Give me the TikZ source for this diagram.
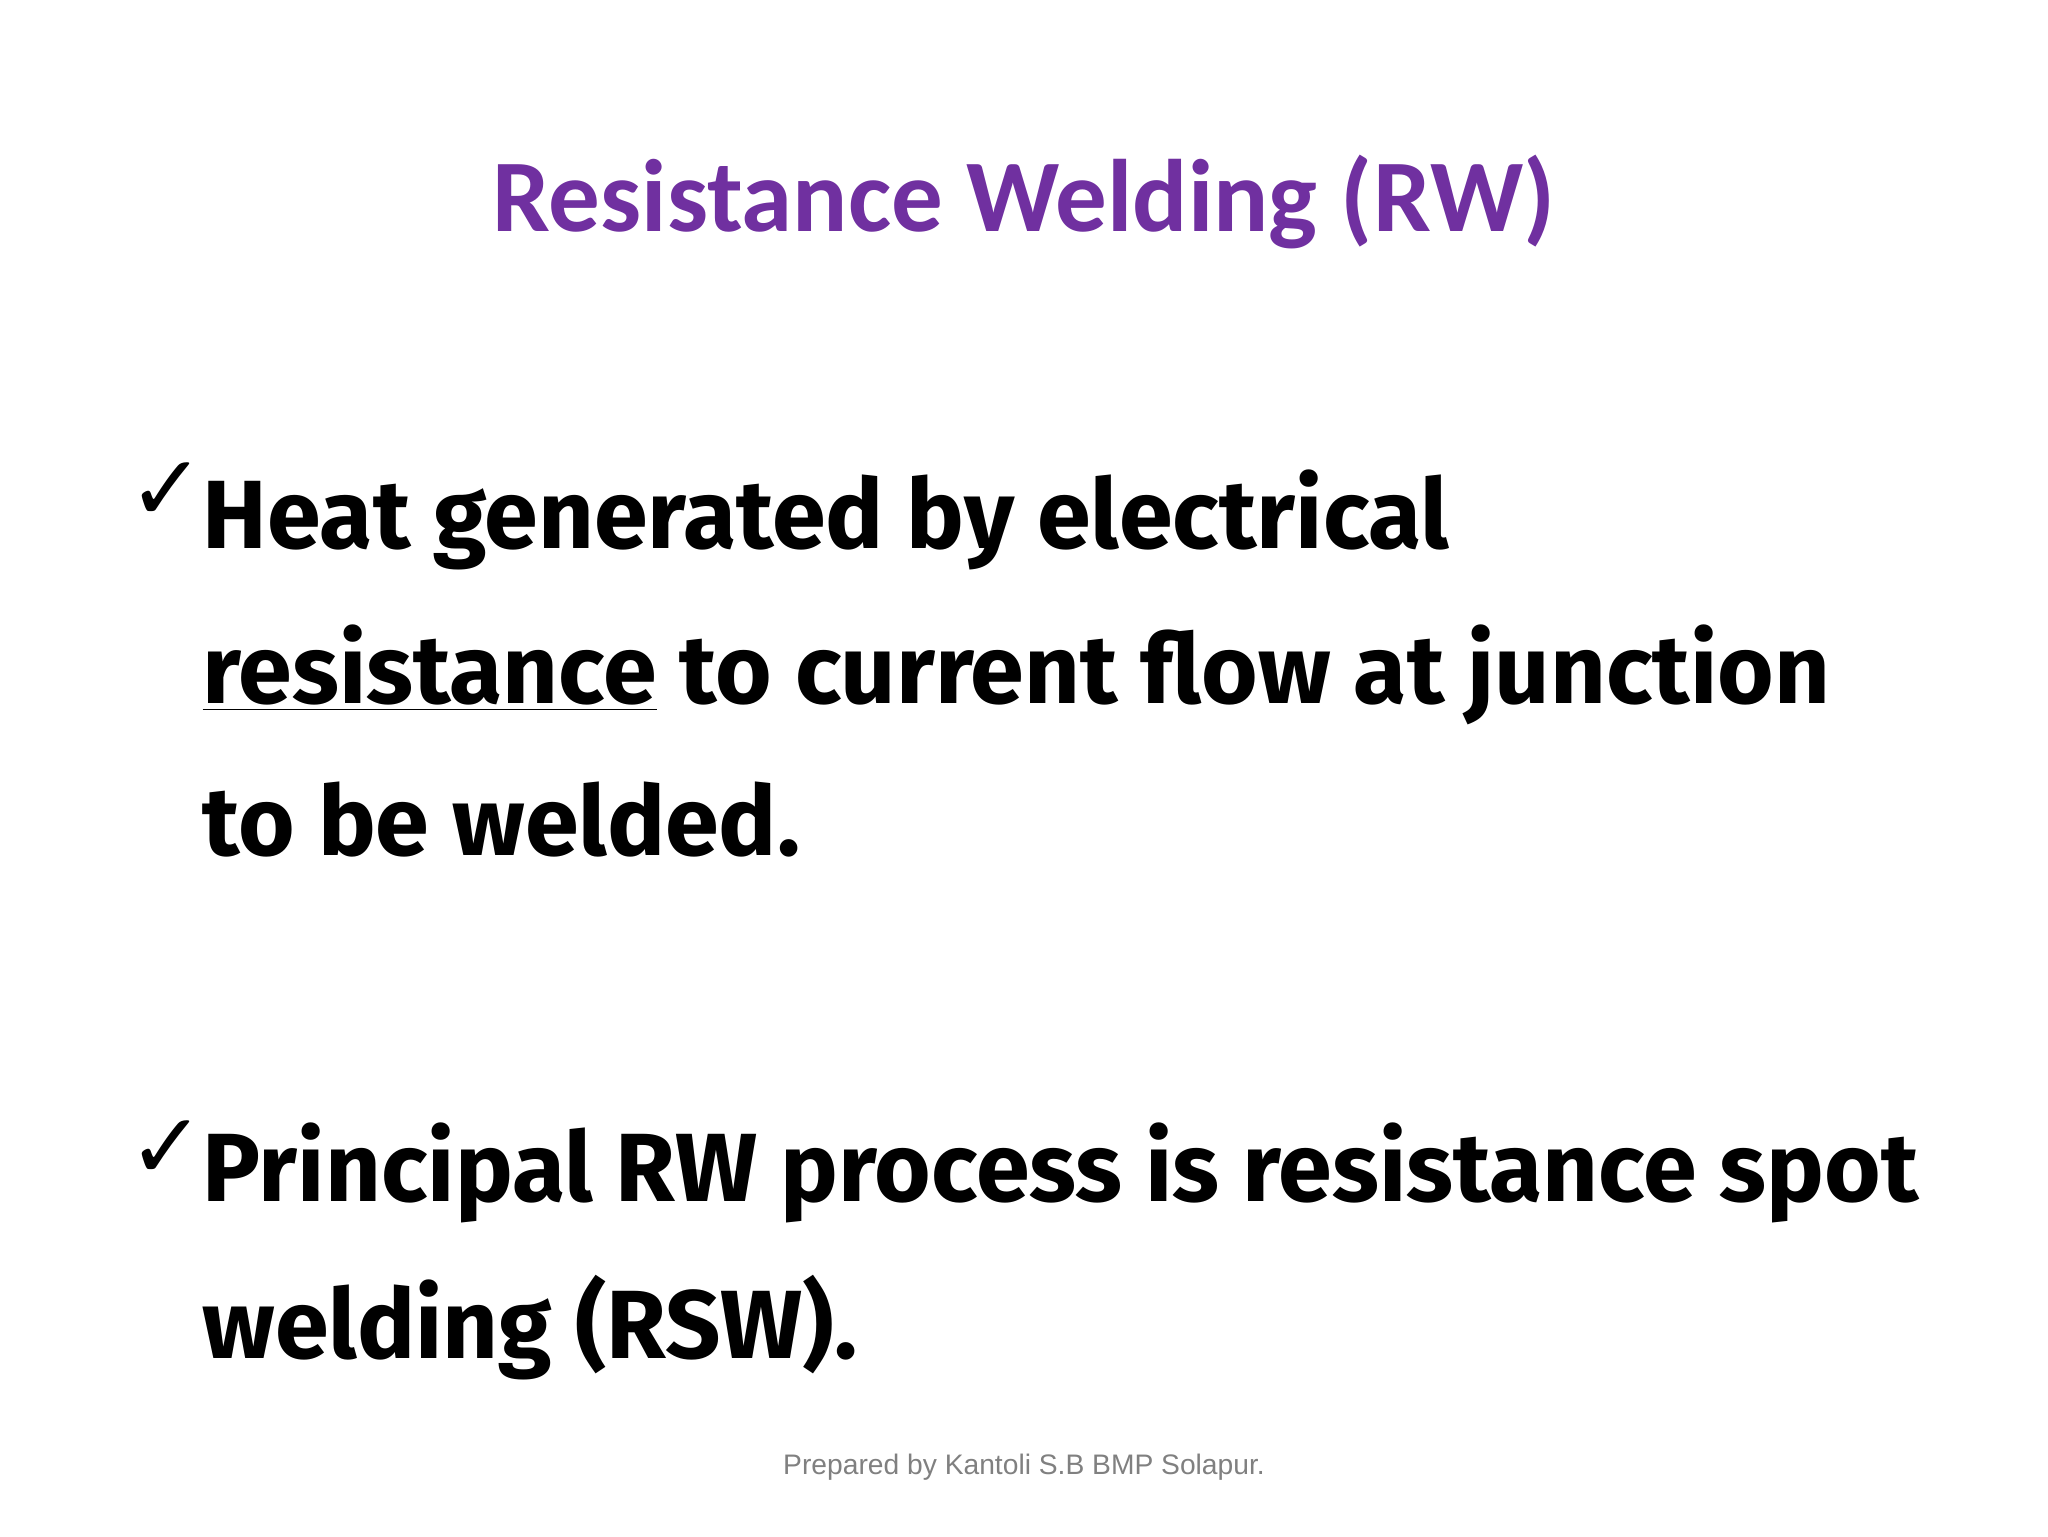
\documentclass[tikz,border=0pt]{standalone}
\usepackage{fontspec}
\setmainfont{Fira Sans}
\newfontfamily\titlefont{Carlito}
\newfontfamily\footfont{Liberation Sans}
\newfontfamily\symfont{DejaVu Sans}
\definecolor{titlepurple}{HTML}{7030A0}
\definecolor{footgray}{HTML}{808080}
\begin{document}
\begin{tikzpicture}[x=1pt,y=1pt,
  body/.style={anchor=base west,inner sep=0pt,font=\fontsize{27.5}{34}\selectfont\bfseries},
  tick/.style={anchor=base west,inner sep=0pt,font=\symfont\fontsize{26}{30}\selectfont}]
\def\px{0.2835}
\useasboundingbox (0,0) rectangle (2048*\px,-1536*\px);
\node[inner sep=0pt,text=titlepurple,font=\titlefont\fontsize{29.2}{34}\selectfont\bfseries] (title) at (1024*\px,-202*\px) {Resistance Welding (RW)};
\node[tick] (t1) at (128*\px,-520*\px) {✓};
\node[body] (l1) at (202*\px,-548*\px) {Heat generated by electrical};
\node[body] (l2) at (202*\px,-703*\px) {\underline{resistance} to current flow at junction};
\node[body] (l3) at (202*\px,-855*\px) {to be welded.};
\node[tick] (t2) at (128*\px,-1178*\px) {✓};
\node[body] (l4) at (202*\px,-1201*\px) {Principal RW process is resistance spot};
\node[body] (l5) at (202*\px,-1358*\px) {welding (RSW).};
\node[inner sep=0pt,text=footgray,font=\footfont\fontsize{8}{10}\selectfont] (foot) at (1024*\px,-1467*\px) {Prepared by Kantoli S.B BMP Solapur.};
\end{tikzpicture}
\end{document}
